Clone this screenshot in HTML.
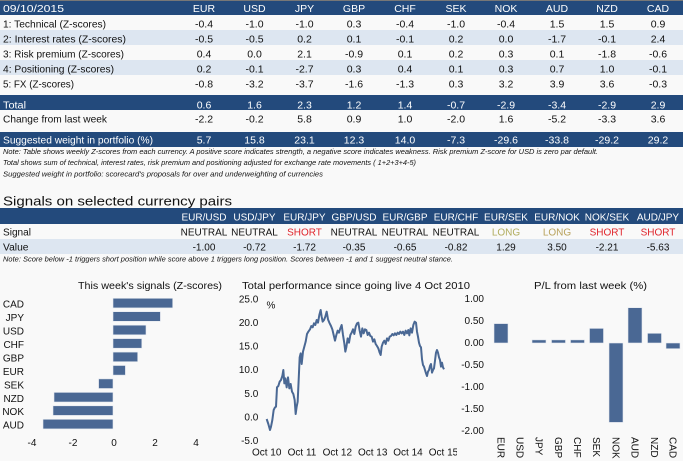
<!DOCTYPE html>
<html><head><meta charset="utf-8"><style>
html,body{margin:0;padding:0;background:#f9f9f9;}
svg{display:block;font-family:"Liberation Sans",sans-serif;}
</style></head><body>
<svg width="683" height="461" viewBox="0 0 683 461" xmlns="http://www.w3.org/2000/svg">
<rect width="683" height="461" fill="#f9f9f9"/>
<!-- top table bands -->
<rect x="0" y="0" width="683" height="1" fill="#777"/>
<rect x="0" y="1" width="683" height="14" fill="#234a7c"/>
<rect x="0" y="30" width="683" height="15" fill="#dde6f1"/>
<rect x="0" y="60" width="683" height="15" fill="#dde6f1"/>
<rect x="0" y="95" width="683" height="15" fill="#234a7c"/>
<rect x="0" y="132" width="683" height="15" fill="#234a7c"/>

<g font-size="10.5" fill="#111">
<text x="3" y="12" fill="#fff" textLength="61" lengthAdjust="spacingAndGlyphs">09/10/2015</text>
<text x="3" y="27.3" textLength="103" lengthAdjust="spacingAndGlyphs">1: Technical (Z-scores)</text>
<text x="3" y="42.3" textLength="123" lengthAdjust="spacingAndGlyphs">2: Interest rates (Z-scores)</text>
<text x="3" y="57.3" textLength="121" lengthAdjust="spacingAndGlyphs">3: Risk premium (Z-scores)</text>
<text x="3" y="72.3" textLength="111" lengthAdjust="spacingAndGlyphs">4: Positioning (Z-scores)</text>
<text x="3" y="87.3" textLength="71" lengthAdjust="spacingAndGlyphs">5: FX (Z-scores)</text>
<text x="3" y="108.3" fill="#fff" textLength="23" lengthAdjust="spacingAndGlyphs">Total</text>
<text x="3" y="122.7" textLength="104" lengthAdjust="spacingAndGlyphs">Change from last week</text>
<text x="3" y="143.3" fill="#fff" textLength="150" lengthAdjust="spacingAndGlyphs">Suggested weight in portfolio (%)</text>
</g>

<g font-size="10.5" fill="#111" text-anchor="middle">
<g fill="#fff">
<text x="204" y="12">EUR</text><text x="254.5" y="12">USD</text><text x="304.5" y="12">JPY</text><text x="354" y="12">GBP</text><text x="405" y="12">CHF</text><text x="456" y="12">SEK</text><text x="506" y="12">NOK</text><text x="557" y="12">AUD</text><text x="607" y="12">NZD</text><text x="658" y="12">CAD</text>
</g>
<g>
<text x="204" y="27.3">-0.4</text><text x="254.5" y="27.3">-1.0</text><text x="304.5" y="27.3">-1.0</text><text x="354" y="27.3">0.3</text><text x="405" y="27.3">-0.4</text><text x="456" y="27.3">-1.0</text><text x="506" y="27.3">-0.4</text><text x="557" y="27.3">1.5</text><text x="607" y="27.3">1.5</text><text x="658" y="27.3">0.9</text>
<text x="204" y="42.3">-0.5</text><text x="254.5" y="42.3">-0.5</text><text x="304.5" y="42.3">0.2</text><text x="354" y="42.3">0.1</text><text x="405" y="42.3">-0.1</text><text x="456" y="42.3">0.2</text><text x="506" y="42.3">0.0</text><text x="557" y="42.3">-1.7</text><text x="607" y="42.3">-0.1</text><text x="658" y="42.3">2.4</text>
<text x="204" y="57.3">0.4</text><text x="254.5" y="57.3">0.0</text><text x="304.5" y="57.3">2.1</text><text x="354" y="57.3">-0.9</text><text x="405" y="57.3">0.1</text><text x="456" y="57.3">0.2</text><text x="506" y="57.3">0.3</text><text x="557" y="57.3">0.1</text><text x="607" y="57.3">-1.8</text><text x="658" y="57.3">-0.6</text>
<text x="204" y="72.3">0.2</text><text x="254.5" y="72.3">-0.1</text><text x="304.5" y="72.3">-2.7</text><text x="354" y="72.3">0.3</text><text x="405" y="72.3">0.4</text><text x="456" y="72.3">0.1</text><text x="506" y="72.3">0.3</text><text x="557" y="72.3">0.7</text><text x="607" y="72.3">1.0</text><text x="658" y="72.3">-0.1</text>
<text x="204" y="87.3">-0.8</text><text x="254.5" y="87.3">-3.2</text><text x="304.5" y="87.3">-3.7</text><text x="354" y="87.3">-1.6</text><text x="405" y="87.3">-1.3</text><text x="456" y="87.3">0.3</text><text x="506" y="87.3">3.2</text><text x="557" y="87.3">3.9</text><text x="607" y="87.3">3.6</text><text x="658" y="87.3">-0.3</text>
</g>
<g fill="#fff">
<text x="204" y="108.3">0.6</text><text x="254.5" y="108.3">1.6</text><text x="304.5" y="108.3">2.3</text><text x="354" y="108.3">1.2</text><text x="405" y="108.3">1.4</text><text x="456" y="108.3">-0.7</text><text x="506" y="108.3">-2.9</text><text x="557" y="108.3">-3.4</text><text x="607" y="108.3">-2.9</text><text x="658" y="108.3">2.9</text>
</g>
<g>
<text x="204" y="122.7">-2.2</text><text x="254.5" y="122.7">-0.2</text><text x="304.5" y="122.7">5.8</text><text x="354" y="122.7">0.9</text><text x="405" y="122.7">1.0</text><text x="456" y="122.7">-2.0</text><text x="506" y="122.7">1.6</text><text x="557" y="122.7">-5.2</text><text x="607" y="122.7">-3.3</text><text x="658" y="122.7">3.6</text>
</g>
<g fill="#fff">
<text x="204" y="143.3">5.7</text><text x="254.5" y="143.3">15.8</text><text x="304.5" y="143.3">23.1</text><text x="354" y="143.3">12.3</text><text x="405" y="143.3">14.0</text><text x="456" y="143.3">-7.3</text><text x="506" y="143.3">-29.6</text><text x="557" y="143.3">-33.8</text><text x="607" y="143.3">-29.2</text><text x="658" y="143.3">29.2</text>
</g>
</g>

<!-- notes -->
<g font-size="7" font-style="italic" fill="#111">
<text x="3" y="154" textLength="595" lengthAdjust="spacingAndGlyphs">Note: Table shows weekly Z-scores from each currency. A positive score indicates strength, a negative score indicates weakness. Risk premium Z-score for USD is zero par default.</text>
<text x="3" y="165" textLength="413" lengthAdjust="spacingAndGlyphs">Total shows sum of technical, interest rates, risk premium and positioning adjusted for exchange rate movements ( 1+2+3+4-5)</text>
<text x="3" y="176.7" textLength="320" lengthAdjust="spacingAndGlyphs">Suggested weight in portfolio: scorecard's proposals for over and underweighting of currencies</text>
</g>

<!-- signals -->
<text x="3" y="205.7" font-size="13" fill="#111" textLength="229" lengthAdjust="spacingAndGlyphs">Signals on selected currency pairs</text>
<rect x="0" y="208" width="683" height="16" fill="#234a7c"/>
<rect x="0" y="239" width="683" height="15" fill="#dde6f1"/>
<g font-size="10" fill="#111">
<text x="3" y="235.7" textLength="28" lengthAdjust="spacingAndGlyphs">Signal</text>
<text x="3" y="250.7" textLength="25.5" lengthAdjust="spacingAndGlyphs">Value</text>
</g>
<g font-size="10" text-anchor="middle">
<g fill="#fff">
<text x="204" y="220.7">EUR/USD</text><text x="254.5" y="220.7">USD/JPY</text><text x="304.5" y="220.7">EUR/JPY</text><text x="354" y="220.7">GBP/USD</text><text x="405" y="220.7">EUR/GBP</text><text x="456" y="220.7">EUR/CHF</text><text x="506" y="220.7">EUR/SEK</text><text x="557" y="220.7">EUR/NOK</text><text x="607" y="220.7">NOK/SEK</text><text x="658" y="220.7">AUD/JPY</text>
</g>
<text x="204" y="235.7" fill="#111">NEUTRAL</text><text x="254.5" y="235.7" fill="#111">NEUTRAL</text><text x="304.5" y="235.7" fill="#e0242b">SHORT</text><text x="354" y="235.7" fill="#111">NEUTRAL</text><text x="405" y="235.7" fill="#111">NEUTRAL</text><text x="456" y="235.7" fill="#111">NEUTRAL</text><text x="506" y="235.7" fill="#b1ad5e">LONG</text><text x="557" y="235.7" fill="#b9a25c">LONG</text><text x="607" y="235.7" fill="#e0242b">SHORT</text><text x="658" y="235.7" fill="#e0242b">SHORT</text>
<g fill="#111">
<text x="204" y="250.7">-1.00</text><text x="254.5" y="250.7">-0.72</text><text x="304.5" y="250.7">-1.72</text><text x="354" y="250.7">-0.35</text><text x="405" y="250.7">-0.65</text><text x="456" y="250.7">-0.82</text><text x="506" y="250.7">1.29</text><text x="557" y="250.7">3.50</text><text x="607" y="250.7">-2.21</text><text x="658" y="250.7">-5.63</text>
</g>
</g>
<text x="3" y="261.7" font-size="7" font-style="italic" fill="#111" textLength="450" lengthAdjust="spacingAndGlyphs">Note: Score below -1 triggers short position while score above 1 triggers long position. Scores between -1 and 1 suggest neutral stance.</text>

<!-- Chart 1 -->
<text x="78" y="289" font-size="10" fill="#111" textLength="144" lengthAdjust="spacingAndGlyphs">This week's signals (Z-scores)</text>
<g font-size="10" fill="#111" text-anchor="end">
<text x="24" y="307.7">CAD</text><text x="24" y="321.1">JPY</text><text x="24" y="334.6">USD</text><text x="24" y="348">CHF</text><text x="24" y="361.5">GBP</text><text x="24" y="374.9">EUR</text><text x="24" y="388.3">SEK</text><text x="24" y="401.8">NZD</text><text x="24" y="415.2">NOK</text><text x="24" y="428.7">AUD</text>
</g>
<g fill="#4a6894" stroke="#e4e8ef" stroke-width="0.6">
<rect x="113" y="298.3" width="59.7" height="9.6"/>
<rect x="113" y="311.7" width="47.4" height="9.6"/>
<rect x="113" y="325.2" width="33" height="9.6"/>
<rect x="113" y="338.6" width="28.8" height="9.6"/>
<rect x="113" y="352.1" width="24.7" height="9.6"/>
<rect x="113" y="365.5" width="12.4" height="9.6"/>
<rect x="98.6" y="378.9" width="14.4" height="9.6"/>
<rect x="54" y="392.4" width="59" height="9.6"/>
<rect x="53" y="405.8" width="60" height="9.6"/>
<rect x="43" y="419.3" width="70" height="9.6"/>
</g>
<g font-size="10" fill="#111" text-anchor="middle">
<text x="32" y="446">-4</text><text x="73" y="446">-2</text><text x="114" y="446">0</text><text x="155" y="446">2</text><text x="196" y="446">4</text>
</g>

<!-- Chart 2 -->
<text x="242" y="289" font-size="10" fill="#111" textLength="228" lengthAdjust="spacingAndGlyphs">Total performance since going live 4 Oct 2010</text>
<g font-size="10" fill="#111" text-anchor="end">
<text x="258.3" y="302.5">25.0</text><text x="258.3" y="326">20.0</text><text x="258.3" y="349.6">15.0</text><text x="258.3" y="373.2">10.0</text><text x="258.3" y="396.8">5.0</text><text x="258.3" y="420.4">0.0</text><text x="258.3" y="444">-5.0</text>
</g>
<text x="266.5" y="308.3" font-size="10" fill="#111">%</text>
<g font-size="10" fill="#111" text-anchor="end">
<text x="484" y="301.8">1.00</text><text x="484" y="323.9">0.50</text><text x="484" y="345.9">0.00</text><text x="484" y="368">-0.50</text><text x="484" y="390">-1.00</text><text x="484" y="412">-1.50</text><text x="484" y="434.2">-2.00</text>
</g>
<defs><clipPath id="c2"><rect x="240" y="440" width="217" height="21"/></clipPath></defs>
<g font-size="10" fill="#111" text-anchor="middle" clip-path="url(#c2)">
<text x="266.7" y="455.7">Oct 10</text><text x="302" y="455.7">Oct 11</text><text x="337.3" y="455.7">Oct 12</text><text x="372.7" y="455.7">Oct 13</text><text x="408" y="455.7">Oct 14</text><text x="443.5" y="455.7">Oct 15</text>
</g>
<g transform="translate(225,270) scale(0.33333)">
<polyline fill="none" stroke="#4a6894" stroke-width="6" stroke-linejoin="round" points="125,447 130,462 135,480 138,470 142,450 146,420 150,412 153,410 156,352 160,348 164,335 168,330 172,318 175,300 178,340 181,325 185,352 189,322 193,355 197,342 201,365 205,372 209,390 212,432 215,410 218,395 221,330 224,262 227,250 230,282 234,245 238,230 242,215 246,192 250,185 255,178 259,168 263,172 267,160 271,165 275,150 279,158 283,135 287,120 290,140 293,155 297,150 301,140 305,125 309,148 313,158 318,168 322,178 326,195 330,212 334,195 338,182 342,188 346,175 350,165 354,195 358,220 361,245 364,232 368,205 372,218 376,195 380,188 384,178 388,192 392,170 396,160 400,158 404,182 408,200 412,175 416,190 420,178 424,180 428,195 432,188 436,198 440,200 444,215 448,208 452,222 456,228 460,235 464,248 467,255 470,230 474,218 478,212 482,222 486,205 490,212 494,200 498,198 502,192 506,196 510,190 514,195 518,188 522,192 526,185 530,190 534,185 538,195 542,182 546,190 550,180 553,196 557,175 561,188 565,165 569,155 573,158 576,185 579,200 582,218 585,228 588,232 591,268 594,285 597,290 600,300 603,310 606,318 609,305 612,300 615,288 618,282 621,308 624,300 627,295 630,272 633,248 636,240 639,248 642,262 645,270 648,290 651,278 654,292 657,298"/>
</g>

<!-- Chart 3 -->
<text x="534" y="289" font-size="10" fill="#111" textLength="113" lengthAdjust="spacingAndGlyphs">P/L from last week (%)</text>
<g fill="#4a6894" stroke="#e4e8ef" stroke-width="0.6">
<rect x="494" y="323.6" width="14" height="19.4"/>
<rect x="532" y="339.9" width="14" height="3.1"/>
<rect x="551.5" y="339.9" width="14" height="3.1"/>
<rect x="570.5" y="339.9" width="14" height="3.1"/>
<rect x="589.5" y="328.4" width="14" height="14.6"/>
<rect x="609" y="343" width="14" height="79.4"/>
<rect x="628" y="307.7" width="14" height="35.3"/>
<rect x="647.5" y="333.3" width="14" height="9.7"/>
<rect x="666" y="343" width="14" height="5.7"/>
</g>
<g font-size="10" fill="#111">
<text transform="translate(497.4,437) rotate(90)">EUR</text>
<text transform="translate(516.4,437) rotate(90)">USD</text>
<text transform="translate(535.4,437) rotate(90)">JPY</text>
<text transform="translate(554.9,437) rotate(90)">GBP</text>
<text transform="translate(573.9,437) rotate(90)">CHF</text>
<text transform="translate(592.9,437) rotate(90)">SEK</text>
<text transform="translate(612.4,437) rotate(90)">NOK</text>
<text transform="translate(631.4,437) rotate(90)">AUD</text>
<text transform="translate(650.9,437) rotate(90)">NZD</text>
<text transform="translate(669.4,437) rotate(90)">CAD</text>
</g>
</svg>
</body></html>
